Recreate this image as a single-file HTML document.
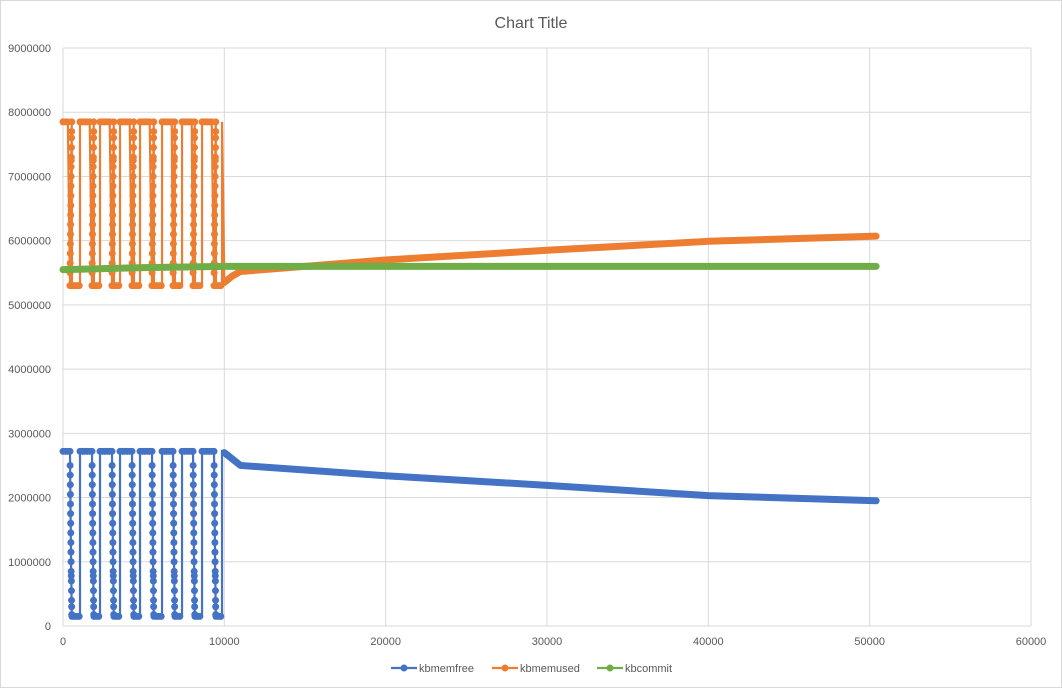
<!DOCTYPE html>
<html><head><meta charset="utf-8"><style>
body{margin:0;background:#fff;font-family:"Liberation Sans",sans-serif}
svg text{font-family:"Liberation Sans",sans-serif}
</style></head><body>
<svg id="chart" width="1062" height="688" xmlns="http://www.w3.org/2000/svg">
<rect x="0.5" y="0.5" width="1061" height="687" fill="#fff" stroke="#d9d9d9"/>
<text x="531" y="28" text-anchor="middle" font-size="16" fill="#595959">Chart Title</text>
<g id="grid"></g>
<g id="axes"></g>
<g id="series"></g>
<g id="legend"></g>
</svg>
<script>
const yTicks=[0,1000000,2000000,3000000,4000000,5000000,6000000,7000000,8000000,9000000];
const xTicks=[0,10000,20000,30000,40000,50000,60000];
// oscillation phase (x positions, in sample units)
const dropX=[434,1798,3037,4277,5517,6819,8059,9361];
const riseX=[1054,2294,3534,4774,6138,7378,8618,9857];
// free memory levels during a drop
const freeDrop=[2720000,2500000,2350000,2200000,2050000,1900000,1750000,1600000,1450000,1300000,1150000,1000000,850000,780000,700000,550000,400000,300000,180000];
const freeHigh=2720000, freeLow=150000;
const usedDrop=[5300000,5500000,5650000,5800000,5950000,6100000,6250000,6400000,6550000,6700000,6850000,7000000,7150000,7250000,7300000,7450000,7600000,7700000,7850000];
const usedHigh=7850000, usedLow=5300000;
// trend after oscillation
const trendX=[10000,10500,11000,20000,30000,40000,50400];
const freeTrend=[2700000,2600000,2500000,2340000,2190000,2030000,1950000];
const usedTrend=[5350000,5450000,5520000,5700000,5850000,5990000,6070000];
const commitX=[0,5000,10000,20000,30000,40000,50400];
const commitY=[5550000,5580000,5600000,5600000,5600000,5600000,5600000];
const seriesNames=["kbmemfree","kbmemused","kbcommit"];
const colors=["#4472c4","#ed7d31","#70ad47"];

const L=63,R=1031,T=48,B=626;
const sx=v=>L+(v-0)/(60000)*(R-L);
const sy=v=>B-v/9000000*(B-T);
const NS="http://www.w3.org/2000/svg";
function mk(tag,attrs,parent){const e=document.createElementNS(NS,tag);for(const k in attrs)e.setAttribute(k,attrs[k]);parent.appendChild(e);return e;}
const grid=document.getElementById('grid'),axes=document.getElementById('axes'),ser=document.getElementById('series'),leg=document.getElementById('legend');
yTicks.forEach(t=>{
 const l=mk('line',{x1:L,x2:R,y1:sy(t),y2:sy(t),stroke:'#d9d9d9','stroke-width':1},grid);
 
 
 const tx=mk('text',{x:L-12,y:sy(t)+4,'text-anchor':'end','font-size':11,fill:'#595959'},axes);
 tx.textContent=t;
 
 
});
xTicks.forEach(t=>{
 const l=mk('line',{x1:sx(t),x2:sx(t),y1:T,y2:B,stroke:'#d9d9d9','stroke-width':1},grid);
 
 
 const tx=mk('text',{x:sx(t),y:B+19,'text-anchor':'middle','font-size':11,fill:'#595959'},axes);
 tx.textContent=t;
 
 
});
function osc(drop,high,low){
 const xs=[],ys=[],dots=[];
 let prev=0;
 for(let i=0;i<dropX.length;i++){
  const start=i===0?0:riseX[i-1];
  for(let x=start;x<=dropX[i];x+=150){xs.push(x);ys.push(high);dots.push([x,high]);}
  drop.forEach((v,j)=>{const x=dropX[i]+j*6;xs.push(x);ys.push(v);dots.push([x,v]);});
  for(let x=dropX[i]+120;x<=riseX[i];x+=150){xs.push(x);ys.push(low);dots.push([x,low]);}
  xs.push(riseX[i]);ys.push(low);xs.push(riseX[i]);ys.push(high);
 }
 return {xs,ys,dots};
}
function draw(o,tx,ty,col,name){
 const g=mk('g',{},ser);
 
 
 let pts=o?o.xs.map((x,i)=>sx(x)+','+sy(o.ys[i])):[];
 tx.forEach((x,i)=>pts.push(sx(x)+','+sy(ty[i])));
 mk('polyline',{points:pts.join(' '),fill:'none',stroke:col,'stroke-width':2.2},g);
 mk('polyline',{points:tx.map((x,i)=>sx(x)+','+sy(ty[i])).join(' '),fill:'none',stroke:col,'stroke-width':7,'stroke-linecap':'round','stroke-linejoin':'round'},g);
 if(o)o.dots.forEach(d=>{
  const c=mk('circle',{cx:sx(d[0]),cy:sy(d[1]),r:3.5,fill:col},g);
  
  
 });
}
draw(osc(freeDrop,freeHigh,freeLow),trendX,freeTrend,colors[0],'kbmemfree');
draw(osc(usedDrop,usedHigh,usedLow),trendX,usedTrend,colors[1],'kbmemused');
draw(null,commitX,commitY,colors[2],'kbcommit');
const legX=[391,492,597];
seriesNames.forEach((n,i)=>{
 const g=mk('g',{},leg);
 
 
 mk('line',{x1:legX[i],x2:legX[i]+26,y1:668,y2:668,stroke:colors[i],'stroke-width':2.2},g);
 mk('circle',{cx:legX[i]+13,cy:668,r:3.5,fill:colors[i]},g);
 const t=mk('text',{x:legX[i]+28,y:672,'font-size':11,fill:'#595959'},g);
 t.textContent=n;
});
</script>
</body></html>
